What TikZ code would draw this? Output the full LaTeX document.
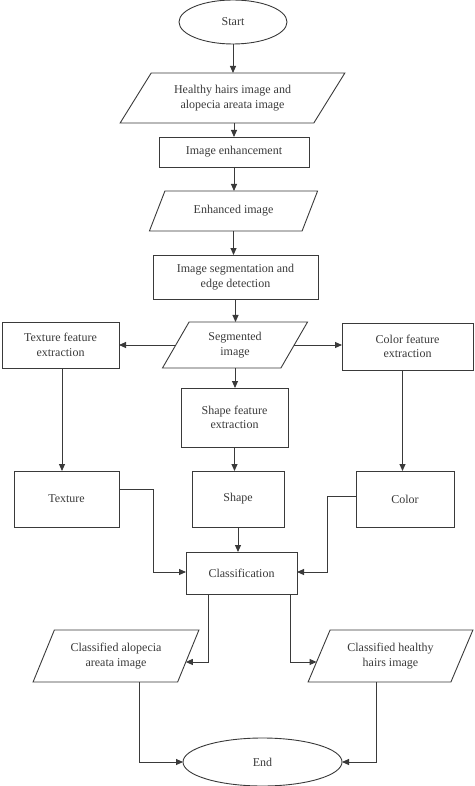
\documentclass[tikz,border=0pt]{standalone}
\usepackage{fontspec}
\setmainfont{Liberation Serif}
\usetikzlibrary{shapes.geometric,arrows.meta,calc}
\definecolor{lc}{HTML}{3A3A3A}
\begin{document}
\begin{tikzpicture}[x=1pt,y=-1pt,
 base/.style={draw=lc, line width=0.9pt, text=lc, font=\fontsize{12}{14.5}\selectfont, align=center, inner sep=0pt, outer sep=0pt},
 box/.style={base, rectangle},
 io/.style={base, trapezium, trapezium stretches=true},
 term/.style={base, ellipse},
 arr/.style={draw=lc, line width=0.9pt, -{Triangle[length=7pt,width=6pt]}}]
\useasboundingbox (0,0) rectangle (474,786);
% nodes
\node[term, minimum width=108pt, minimum height=44pt] (start) at (233,22) {Start};
\node[io, minimum width=225pt, minimum height=50pt, trapezium left angle=48.7, trapezium right angle=131.3] (in) at (232.5,98) {Healthy hairs image and\\alopecia areata image};
\node[box, minimum width=150pt, minimum height=30pt] (enh) at (234,152) {Image enhancement};
\node[io, minimum width=169pt, minimum height=40pt, trapezium left angle=50.5, trapezium right angle=129.5] (eimg) at (233.5,211) {Enhanced image};
\node[box, minimum width=165pt, minimum height=44pt] (seg) at (235.5,277) {Image segmentation and\\edge detection};
\node[io, minimum width=146pt, minimum height=46pt, trapezium left angle=58.7, trapezium right angle=121.3] (simg) at (235,345) {Segmented\\image};
\node[box, minimum width=117pt, minimum height=46pt] (tfe) at (60.5,345) {Texture feature\\extraction};
\node[box, minimum width=131pt, minimum height=47pt] (cfe) at (407.5,346.5) {Color feature\\extraction};
\node[box, minimum width=107pt, minimum height=59pt] (sfe) at (234.5,417.5) {Shape feature\\extraction};
\node[box, minimum width=105pt, minimum height=56pt] (tex) at (66.5,499) {Texture};
\node[box, minimum width=92pt, minimum height=56pt] (shp) at (238,499) {Shape};
\node[box, minimum width=98pt, minimum height=56pt] (col) at (405,499) {Color};
\node[box, minimum width=111pt, minimum height=42pt] (cls) at (241.5,573) {Classification};
\node[io, minimum width=166pt, minimum height=52pt, trapezium left angle=58.4, trapezium right angle=121.6] (la) at (116,656) {Classified alopecia\\areata image};
\node[io, minimum width=165pt, minimum height=52pt, trapezium left angle=58.4, trapezium right angle=121.6] (hh) at (390.5,656) {Classified healthy\\hairs image};
\node[term, minimum width=159pt, minimum height=48pt] (end) at (262.5,762) {End};
% helper coordinates
\coordinate (xlb) at (139,0);
\coordinate (xrb) at (376,0);
% connectors
\draw[arr] (start.south) -- (start.south |- in.north);
\draw[arr] (in.south -| enh.north) -- (enh.north);
\draw[arr] (enh.south) -- (enh.south |- eimg.north);
\draw[arr] (eimg.south) -- (eimg.south |- seg.north);
\draw[arr] (seg.south) -- (seg.south |- simg.north);
\draw[arr] (simg.west) -- (simg.west -| tfe.east);
\draw[arr] (simg.east) -- (simg.east -| cfe.west);
\draw[arr] (simg.south) -- (simg.south |- sfe.north);
\coordinate (a1) at ($(tfe.south)+(1.5,0)$);
\draw[arr] (a1) -- (a1 |- tex.north);
\coordinate (a2) at ($(cfe.south)+(-5,0)$);
\draw[arr] (a2) -- (a2 |- col.north);
\draw[arr] (sfe.south) -- (sfe.south |- shp.north);
\draw[arr] (shp.south) -- (shp.south |- cls.north);
\coordinate (tk) at (153,572);
\draw[arr] ($(tex.north east)!0.33!(tex.south east)$) -| (tk) -- (tk -| cls.west);
\coordinate (ck) at (327,572);
\draw[arr] ($(col.north west)!0.46!(col.south west)$) -| (ck) -- (ck -| cls.east);
\coordinate (lk) at ($(cls.south west)+(22,0)$);
\draw[arr] (lk) |- ($(la.top right corner)!0.615!(la.bottom right corner)$);
\coordinate (rk) at ($(cls.south east)+(-7,0)$);
\draw[arr] (rk) |- ($(hh.top left corner)!0.615!(hh.bottom left corner)$);
\draw[arr] (la.south -| xlb) |- (end.west);
\draw[arr] (hh.south -| xrb) |- (end.east);
\end{tikzpicture}
\end{document}
